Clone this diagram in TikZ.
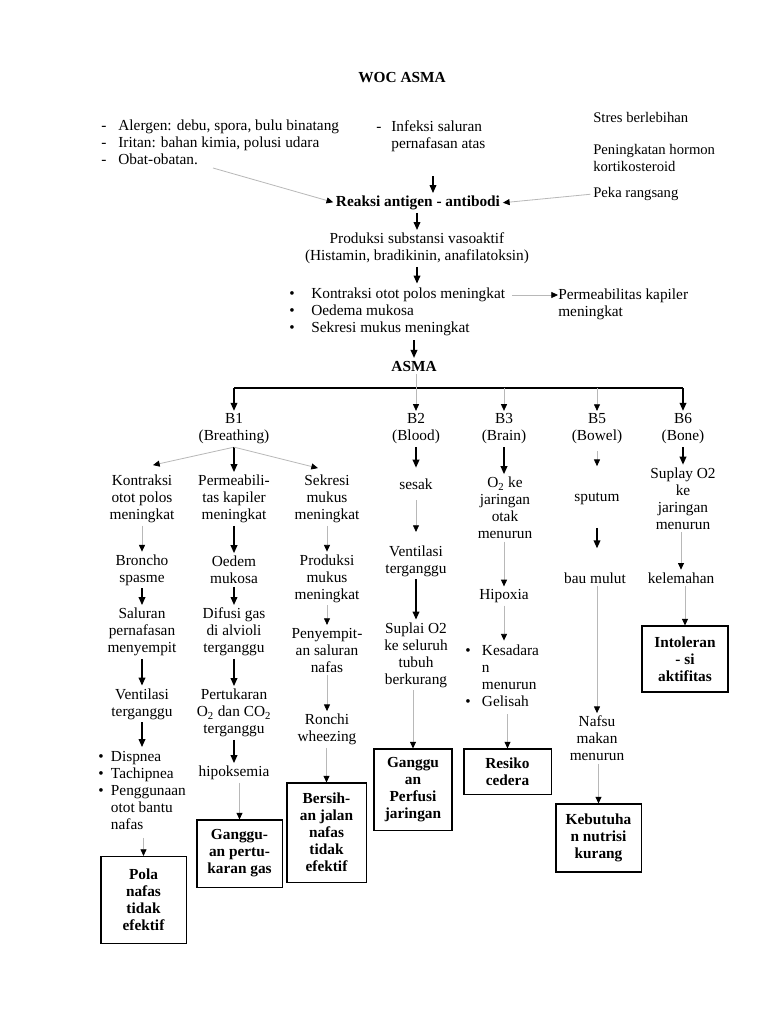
\documentclass[tikz,border=0pt]{standalone}
\usepackage{fontspec}
\setmainfont{Liberation Serif}
\usetikzlibrary{arrows.meta,calc}
\newcommand{\wocfont}{\fontsize{11.5}{12.75}\selectfont}
\newcommand{\wocsmall}{\fontsize{11}{12.4}\selectfont}

\begin{document}
\begin{tikzpicture}[x=0.75pt, y=-0.75pt,
    txt/.style={align=center, inner xsep=0pt, inner ysep=2pt, font=\wocfont},
    diag/.style={draw, line width=0.8pt, align=center, inner sep=2pt,
                 font=\wocfont\bfseries},
    arrow/.style={-{Triangle[length=6pt,width=5pt]}, line width=1.1pt},
    garrow/.style={-{Triangle[length=5pt,width=4.5pt,color=black]},
                   draw=black!28, line width=0.6pt}
]
\fill[white] (0,0) rectangle (768,1024);

\node[txt, font=\wocfont\bfseries] (judul) at (402,78) {WOC ASMA};

\node[txt, anchor=west] (sebab) at (101,144.5) {\begin{tabular}{@{}l@{\hspace{9pt}}l@{}}
-&Alergen: debu, spora, bulu binatang\\
-&Iritan: bahan kimia, polusi udara\\
-&Obat-obatan.\end{tabular}};
\node[txt, anchor=west] (infeksi) at (376,136.5) {\begin{tabular}{@{}l@{\hspace{7.5pt}}l@{}}
-&Infeksi saluran\\
&pernafasan atas\end{tabular}};
\node[txt, anchor=west, font=\wocsmall] (stres) at (593,117) {Stres berlebihan};
\node[txt, anchor=west, align=left, font=\wocsmall] (hormon) at (593,158) {Peningkatan hormon\\kortikosteroid};
\node[txt, anchor=west, font=\wocsmall] (peka) at (593,194) {Peka rangsang};
\coordinate (obatend) at (213,168);
\coordinate (infend) at (433,176);

\node[txt, font=\wocfont\bfseries] (reaksi) at (418,203) {Reaksi antigen - antibodi};
\node[txt] (vaso) at (417,248.5) {Produksi substansi vasoaktif\\(Histamin, bradikinin, anafilatoksin)};
\node[txt, anchor=west] (gejala) at (289,312) {\begin{tabular}{@{}l@{\hspace{12.5pt}}l@{}}
\textbullet&Kontraksi otot polos meningkat\\
\textbullet&Oedema mukosa\\
\textbullet&Sekresi mukus meningkat\end{tabular}};
\coordinate (kontend) at (512,295);
\node[txt, anchor=west, align=left] (kapiler) at (558,304) {Permeabilitas kapiler\\meningkat};
\node[txt, font=\wocfont\bfseries] (asma) at (414,366) {ASMA};
\coordinate (bus) at (417,388);

\node[txt] (bre) at (234,429) {B1\\(Breathing)};
\node[txt] (blo) at (416,429) {B2\\(Blood)};
\node[txt] (bra) at (504,429) {B3\\(Brain)};
\node[txt] (bow) at (597,429) {B5\\(Bowel)};
\node[txt] (bon) at (683,429) {B6\\(Bone)};

\node[txt] (kon1) at (142,499) {Kontraksi\\otot polos\\meningkat};
\node[txt] (kon2) at (142,570) {Broncho\\spasme};
\node[txt] (kon3) at (142,632) {Saluran\\pernafasan\\menyempit};
\node[txt] (kon4) at (142,704) {Ventilasi\\terganggu};
\node[txt, anchor=west] (kon5) at (98,792.5) {\begin{tabular}{@{}l@{\hspace{5.5pt}}l@{}}
\textbullet&Dispnea\\
\textbullet&Tachipnea\\
\textbullet&Penggunaan\\
&otot bantu\\
&nafas\end{tabular}};
\node[diag, minimum width=63.8pt, minimum height=65.3pt] (kon6) at (143.5,900) {Pola\\nafas\\tidak\\efektif};

\node[txt] (per1) at (234,499) {Permeabili-\\tas kapiler\\meningkat};
\node[txt] (per2) at (234,570) {Oedem\\mukosa};
\node[txt] (per3) at (234,632) {Difusi gas\\di alvioli\\terganggu};
\node[txt] (per4) at (234,713) {Pertukaran\\O\textsubscript{2} dan CO\textsubscript{2}\\terganggu};
\node[txt] (per5) at (234,773) {hipoksemia};
\node[diag, minimum width=63.8pt, minimum height=50.3pt] (per6) at (239.5,853.5) {Ganggu-\\an pertu-\\karan gas};

\node[txt] (sek1) at (327,499) {Sekresi\\mukus\\meningkat};
\node[txt] (sek2) at (327,578.5) {Produksi\\mukus\\meningkat};
\node[txt] (sek3) at (327,650) {Penyempit-\\an saluran\\nafas};
\node[txt] (sek4) at (327,729.5) {Ronchi\\wheezing};
\node[diag, minimum width=59.3pt, minimum height=74.3pt] (sek5) at (326.5,832.5) {Bersih-\\an jalan\\nafas\\tidak\\efektif};

\node[txt] (blo1) at (416,484) {sesak};
\node[txt] (blo2) at (416,561) {Ventilasi\\terganggu};
\node[txt] (blo3) at (416,655) {Suplai O2\\ke seluruh\\tubuh\\berkurang};
\node[diag, minimum width=58.5pt, minimum height=60.8pt] (blo4) at (413,789.5) {Ganggu\\an\\Perfusi\\jaringan};

\node[txt] (bra1) at (505,508) {O\textsubscript{2} ke\\jaringan\\otak\\menurun};
\node[txt] (bra2) at (504,596) {Hipoxia};
\node[txt, anchor=west] (bra3) at (465,677.5) {\begin{tabular}{@{}l@{\hspace{8.5pt}}l@{}}
\textbullet&Kesadara\\
&n\\
&menurun\\
\textbullet&Gelisah\end{tabular}};
\node[diag, minimum width=65.3pt, minimum height=33.8pt] (bra4) at (507.5,771.5) {Resiko\\cedera};

\node[txt] (bow1) at (597,499) {sputum};
\node[txt] (bow2) at (595,578) {bau mulut};
\node[txt] (bow3) at (597,738.5) {Nafsu\\makan\\menurun};
\node[diag, minimum width=63.8pt, minimum height=51pt] (bow4) at (598.5,838) {Kebutuha\\n nutrisi\\kurang};

\node[txt] (bon1) at (683,498.5) {Suplay O2\\ke\\jaringan\\menurun};
\node[txt] (bon2) at (681,578) {kelemahan};
\node[diag, minimum width=64.5pt, minimum height=49.5pt] (bon3) at (685,659) {Intoleran\\- si\\aktifitas};

\draw[garrow, shorten >=2pt] (obatend) -- (reaksi.west);
\draw[arrow] (infend) -- (infend |- reaksi.north);
\draw[garrow, shorten <=2pt, shorten >=2pt] (peka.west) -- (reaksi.east);
\draw[arrow] (reaksi.south -| vaso.north) -- (vaso.north);
\draw[arrow] (vaso.south) -- (vaso.south |- gejala.north);
\draw[garrow] (kontend) -- (kontend -| kapiler.west);
\draw[arrow] (gejala.south -| asma.north) -- (asma.north);

\draw[line width=1.1pt] (bre.north |- bus) -- (bon.north |- bus);
\draw[arrow] (bre.north |- bus) -- (bre.north);
\draw[garrow] (asma.south -| blo.north) -- (blo.north);
\draw[garrow] (bra.north |- bus) -- (bra.north);
\draw[garrow] (bow.north |- bus) -- (bow.north);
\draw[arrow] (bon.north |- bus) -- (bon.north);

\draw[garrow] (bre.south) -- ($(kon1.north)+(11,-7)$);
\draw[arrow] (bre.south) -- (per1.north);
\draw[garrow] (bre.south) -- ($(sek1.north)+(-9,-4)$);
\draw[arrow, shorten >=6pt] (blo.south) -- (blo1.north);
\draw[arrow] (bra.south) -- (bra.south |- bra1.north);
\draw[garrow, shorten <=3pt, shorten >=18pt] (bow.south) -- (bow1.north);
\draw[arrow] (bon.south) -- (bon1.north);

\draw[garrow] (kon1) -- (kon2);
\draw[arrow] (kon2) -- (kon3);
\draw[arrow] (kon3) -- (kon4);
\draw[arrow] (kon4.south) -- (kon4.south |- kon5.north);
\draw[garrow] (kon5.south -| kon6.north) -- (kon6.north);

\draw[arrow] (per1) -- (per2);
\draw[arrow] (per2) -- (per3);
\draw[arrow] (per3) -- (per4);
\draw[arrow] (per4) -- (per5);
\draw[garrow] (per5.south -| per6.north) -- (per6.north);

\draw[garrow] (sek1) -- (sek2);
\draw[garrow] (sek2) -- (sek3);
\draw[garrow] (sek3) -- (sek4);
\draw[garrow] (sek4.south -| sek5.north) -- (sek5.north);

\draw[garrow, shorten <=6pt, shorten >=8pt] (blo1) -- (blo2);
\draw[arrow] (blo2) -- (blo3);
\draw[garrow] (blo3.south -| blo4.north) -- (blo4.north);

\draw[garrow] (bra1.south -| bra2.north) -- (bra2.north);
\draw[garrow] (bra2.south) -- (bra2.south |- bra3.north);
\draw[garrow] (bra3.south -| bra4.north) -- (bra4.north);

\draw[arrow, shorten <=15pt, shorten >=16pt] (bow1.south) -- (bow1.south |- bow2.north);
\draw[garrow] (bow2.south -| bow3.north) -- (bow3.north);
\draw[garrow] (bow3.south -| bow4.north) -- (bow4.north);

\draw[garrow] (bon1.south -| bon2.north) -- (bon2.north);
\draw[garrow] (bon2.south -| bon3.north) -- (bon3.north);
\end{tikzpicture}
\end{document}
